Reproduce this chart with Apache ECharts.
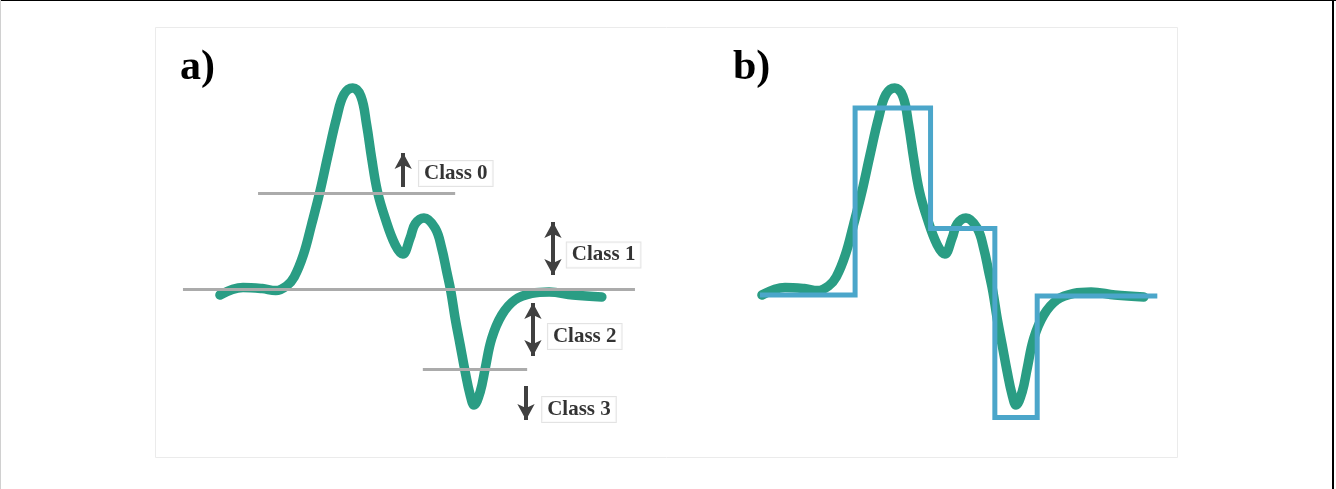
<!DOCTYPE html>
<html>
<head>
<meta charset="utf-8">
<script src="https://cdn.jsdelivr.net/npm/echarts@6/dist/echarts.min.js"></script>
<style>
  html, body { margin: 0; padding: 0; background: #fff; }
  #wrap { position: relative; width: 1336px; height: 489px; overflow: hidden; }
  #chart { position: absolute; left: 0; top: 0; width: 1336px; height: 489px; }
  .edge { position: absolute; }
</style>
</head>
<body>
<div id="wrap">
  <div id="chart"></div>
  <div class="edge" style="left:0;top:0;width:1336px;height:1px;background:#000"></div>
  <div class="edge" style="left:0;top:0;width:1px;height:489px;background:#d0d0d0"></div>
  <div class="edge" style="left:1332px;top:0;width:2px;height:489px;background:#000"></div>
</div>
<script>
// ---- data (time units t, amplitude units) ----
const curveT = [0.5, 6.5, 11.5, 15.0, 17.8, 19.8, 22.2, 24.3, 26.5, 28.6, 30.8, 32.7, 35.0, 37.1, 38.6, 39.9, 41.4, 43.4, 46.0, 48.0, 49.9, 51.2, 53.5, 56.4, 58.1, 59.4, 60.5, 61.6, 62.9, 64.2, 65.5, 66.5, 68.1, 69.4, 71.1, 73.7, 77.1, 81.5, 86.0, 92.2, 99.7];
const curveY = [-3, 0.8, 0.2, -0.8, 1.5, 6, 17.2, 32.2, 48.9, 67.2, 85.5, 97.2, 100.5, 96.4, 82.2, 65.5, 48.9, 35.5, 22.2, 17.5, 25.5, 32.5, 35.5, 30.4, 20.4, 8.7, -1.4, -14.7, -28, -41.4, -53, -58, -51.4, -39.7, -24.7, -13, -5.5, -2.2, -1.5, -3, -4];

// step approximation in panel b (value holds until next breakpoint)
const stepT = [0, 24.7, 44.3, 61.0, 72.0, 103.2];
const stepY = [-3, 90.5, 30.2, -64.3, -3.5, -3.5];

// class thresholds in panel a: [level, tStart, tEnd]
const thrLevel = [48, 0, -40];
const thrStart = [10.4, -9.1, 53.2];
const thrEnd   = [61.6, 108.3, 80.3];

// class labels and arrows
const classNames = ['Class 0', 'Class 1', 'Class 2', 'Class 3'];
const labelT = [52.2, 90.6, 85.7, 84.2];
const labelY = [57.75, 17, -23.75, -60.25];
const arrowT = [48.1, 87, 81.8, 80];
const arrowFrom = [51, 33.5, -7, -48.5];
const arrowTo = [68, 7, -33.5, -65.5];
const arrowKind = ['up', 'both', 'both', 'down'];

const panelTitles = ['a)', 'b)'];

// ---- chart ----
const GREEN = '#2a9d84';
const BLUE = '#4ba6ca';
const GRAY = '#ababab';
const DARK = '#404040';

const curveData = curveT.map((t, i) => [t, curveY[i]]);
const stepData = stepT.map((t, i) => [t, stepY[i]]);

const axisX = (gi) => ({ type: 'value', gridIndex: gi, min: -10, max: 110, show: false });
const axisY = (gi) => ({ type: 'value', gridIndex: gi, min: -80, max: 120, show: false });

const thrLines = thrLevel.map((lv, i) => [
  { coord: [thrStart[i], lv] }, { coord: [thrEnd[i], lv] }
]);

const arrowLines = arrowT.map((t, i) => {
  const sym = arrowKind[i] === 'both' ? ['arrow', 'arrow'] : ['none', 'arrow'];
  return [
    { coord: [t, arrowFrom[i]], symbol: sym[0] },
    { coord: [t, arrowTo[i]], symbol: sym[1] }
  ];
});

const labelData = classNames.map((n, i) => ({ value: [labelT[i], labelY[i]], name: n }));

const serif = 'Liberation Serif, Times New Roman, serif';

const option = {
  animation: false,
  backgroundColor: '#fff',
  graphic: [{
    type: 'rect', z: -10, silent: true,
    shape: { x: 155.5, y: 27.5, width: 1022, height: 430 },
    style: { fill: '#fff', stroke: '#ebebeb', lineWidth: 1 }
  }],
  title: [
    { text: panelTitles[0], left: 180, top: 47, padding: 0,
      textStyle: { fontFamily: serif, fontWeight: 'bold', fontSize: 42, color: '#000' } },
    { text: panelTitles[1], left: 733, top: 47, padding: 0,
      textStyle: { fontFamily: serif, fontWeight: 'bold', fontSize: 42, color: '#000' } }
  ],
  grid: [
    { left: 179.5, width: 462, top: 49, height: 400 },
    { left: 721.5, width: 462, top: 49, height: 400 }
  ],
  xAxis: [axisX(0), axisX(1)],
  yAxis: [axisY(0), axisY(1)],
  series: [
    {
      type: 'line', xAxisIndex: 0, yAxisIndex: 0, data: curveData,
      smooth: 0.4, showSymbol: false, z: 2,
      lineStyle: { color: GREEN, width: 9.5, cap: 'round', join: 'round' }
    },
    {
      type: 'line', xAxisIndex: 0, yAxisIndex: 0, data: [], z: 3,
      markLine: {
        silent: true, symbol: ['none', 'none'], animation: false,
        label: { show: false },
        lineStyle: { color: GRAY, width: 3, type: 'solid' },
        data: thrLines
      }
    },
    {
      type: 'line', xAxisIndex: 0, yAxisIndex: 0, data: [], z: 4,
      markLine: {
        silent: true, animation: false, symbolSize: [13, 16],
        label: { show: false },
        lineStyle: { color: DARK, width: 4, type: 'solid' },
        itemStyle: { color: DARK },
        data: arrowLines
      }
    },
    {
      type: 'scatter', xAxisIndex: 0, yAxisIndex: 0, data: labelData,
      symbolSize: 0, z: 5,
      label: {
        show: true, position: 'right', distance: 0,
        formatter: (p) => p.name,
        fontFamily: serif, fontWeight: 'bold', fontSize: 21, color: '#000',
        lineHeight: 21,
        backgroundColor: '#fff', borderColor: '#dcdcdc', borderWidth: 1,
        padding: [2, 5, 2, 5]
      }
    },
    {
      type: 'line', xAxisIndex: 1, yAxisIndex: 1, data: curveData,
      smooth: 0.4, showSymbol: false, z: 2,
      lineStyle: { color: GREEN, width: 9.5, cap: 'round', join: 'round' }
    },
    {
      type: 'line', xAxisIndex: 1, yAxisIndex: 1, data: stepData,
      step: 'end', showSymbol: false, z: 3,
      lineStyle: { color: BLUE, width: 5, join: 'miter' }
    }
  ]
};

const chart = echarts.init(document.getElementById('chart'));
chart.setOption(option);
</script>
</body>
</html>
